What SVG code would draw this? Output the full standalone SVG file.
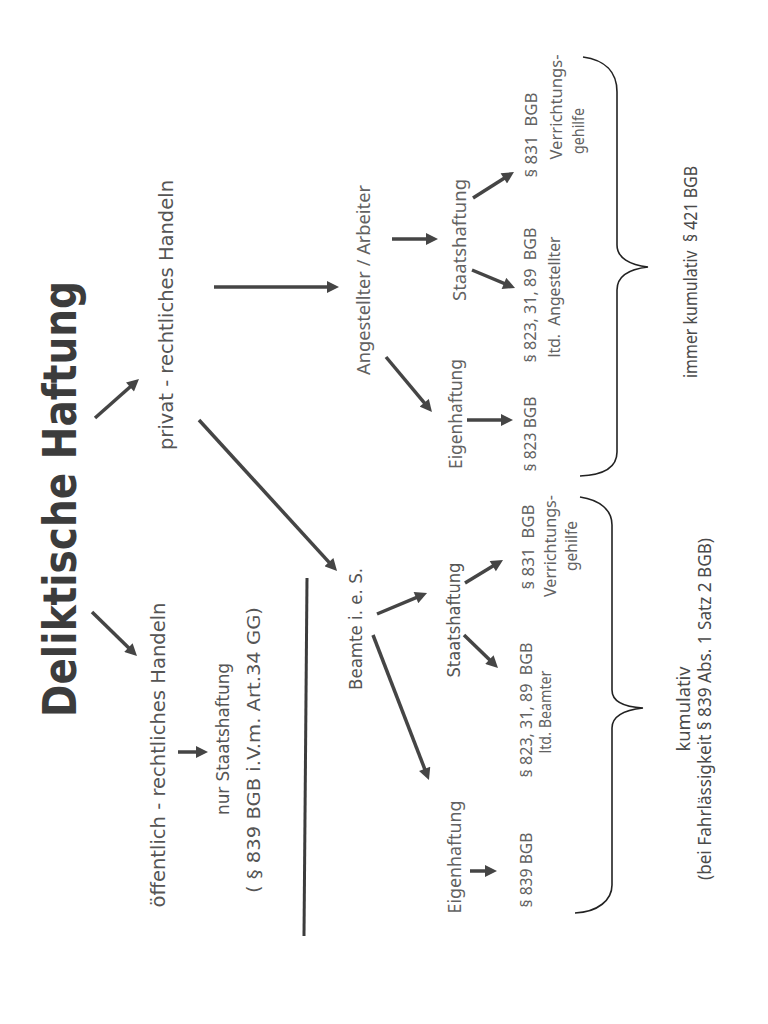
<svg xmlns="http://www.w3.org/2000/svg" width="768" height="1024" viewBox="0 0 768 1024">
<defs>
<marker id="ah" viewBox="0 0 10 10" refX="5" refY="5" markerWidth="13" markerHeight="12" markerUnits="userSpaceOnUse" orient="auto">
<path d="M0,0 L10,5 L0,10 z" fill="#454545"/>
</marker>
<style>
.t{font-family:"DejaVu Sans","Liberation Sans",sans-serif;text-anchor:middle;fill:#555555;font-size:18px;white-space:pre;}
.c{font-family:"Noto Sans","Liberation Sans",sans-serif;text-anchor:middle;fill:#626262;font-size:18px;white-space:pre;}
.title{font-family:"DejaVu Sans","Liberation Sans",sans-serif;font-weight:bold;font-size:46px;fill:#3c3c3c;text-anchor:middle;}
.arr{stroke:#454545;stroke-width:3.5;fill:none;marker-end:url(#ah);}
.brace{stroke:#222;stroke-width:1.6;fill:none;}
</style>
</defs>
<rect width="768" height="1024" fill="#ffffff"/>

<g id="title"><text class="title" transform="translate(76,499) rotate(-90)" textLength="436" lengthAdjust="spacingAndGlyphs">Deliktische Haftung</text></g>

<g id="privat"><text class="t" style="font-size:20px" transform="translate(173,315) rotate(-90)" textLength="270" lengthAdjust="spacingAndGlyphs">privat - rechtliches Handeln</text></g>
<g id="angestellter"><text class="c" transform="translate(370,280) rotate(-90)" textLength="190" lengthAdjust="spacingAndGlyphs">Angestellter / Arbeiter</text></g>
<g id="staatshaftung-top"><text class="c" transform="translate(466,240) rotate(-90)" textLength="122" lengthAdjust="spacingAndGlyphs">Staatshaftung</text></g>
<g id="eigenhaftung-top"><text class="c" transform="translate(462,414) rotate(-90)" textLength="110" lengthAdjust="spacingAndGlyphs">Eigenhaftung</text></g>
<g id="p823-top"><text class="c" style="font-size:17px" transform="translate(536,434) rotate(-90)" textLength="75" lengthAdjust="spacingAndGlyphs">§ 823 BGB</text></g>
<g id="p823-31-89-top">
<text class="c" style="font-size:17px" xml:space="preserve" transform="translate(536,295) rotate(-90)" textLength="135" lengthAdjust="spacingAndGlyphs">§ 823, 31, 89  BGB</text>
<text class="c" style="font-size:17px" xml:space="preserve" transform="translate(560,297) rotate(-90)" textLength="121" lengthAdjust="spacingAndGlyphs">ltd.  Angestellter</text>
</g>
<g id="p831-top">
<text class="c" style="font-size:17px" xml:space="preserve" transform="translate(537,135) rotate(-90)" textLength="85" lengthAdjust="spacingAndGlyphs">§ 831  BGB</text>
<text class="c" style="font-size:17px" transform="translate(562,107) rotate(-90)" textLength="105" lengthAdjust="spacingAndGlyphs">Verrichtungs-</text>
<text class="c" style="font-size:17px" transform="translate(584,131) rotate(-90)" textLength="46" lengthAdjust="spacingAndGlyphs">gehilfe</text>
</g>
<g id="immer-kumulativ"><text class="c" style="fill:#4a4a4a" xml:space="preserve" transform="translate(697,272) rotate(-90)" textLength="212" lengthAdjust="spacingAndGlyphs">immer kumulativ  § 421 BGB</text></g>

<g id="oeffentlich"><text class="t" style="font-size:19px" transform="translate(165,755) rotate(-90)" textLength="305" lengthAdjust="spacingAndGlyphs">öffentlich - rechtliches Handeln</text></g>
<g id="nur-staatshaftung">
<text class="t" transform="translate(229,739) rotate(-90)" textLength="152" lengthAdjust="spacingAndGlyphs">nur Staatshaftung</text>
<text class="t" transform="translate(260,750) rotate(-90)" textLength="286" lengthAdjust="spacingAndGlyphs">( § 839 BGB i.V.m. Art.34 GG)</text>
</g>
<g id="beamte"><text class="t" style="font-size:17px" transform="translate(362,629) rotate(-90)" textLength="122" lengthAdjust="spacingAndGlyphs">Beamte i. e. S.</text></g>
<g id="staatshaftung-bottom"><text class="t" transform="translate(460,620) rotate(-90)" textLength="115" lengthAdjust="spacingAndGlyphs">Staatshaftung</text></g>
<g id="p831-bottom">
<text class="c" style="font-size:17px" xml:space="preserve" transform="translate(534,547) rotate(-90)" textLength="85" lengthAdjust="spacingAndGlyphs">§ 831  BGB</text>
<text class="c" style="font-size:17px" transform="translate(556,546) rotate(-90)" textLength="102" lengthAdjust="spacingAndGlyphs">Verrichtungs-</text>
<text class="c" style="font-size:17px" transform="translate(577,546) rotate(-90)" textLength="50" lengthAdjust="spacingAndGlyphs">gehilfe</text>
</g>
<g id="p823-31-89-bottom">
<text class="c" style="font-size:17px" xml:space="preserve" transform="translate(532,710) rotate(-90)" textLength="135" lengthAdjust="spacingAndGlyphs">§ 823, 31, 89  BGB</text>
<text class="c" style="font-size:17px" transform="translate(551,712) rotate(-90)" textLength="83" lengthAdjust="spacingAndGlyphs">ltd. Beamter</text>
</g>
<g id="eigenhaftung-bottom"><text class="c" transform="translate(461,857) rotate(-90)" textLength="113" lengthAdjust="spacingAndGlyphs">Eigenhaftung</text></g>
<g id="p839"><text class="c" style="font-size:17px" transform="translate(532,870) rotate(-90)" textLength="75" lengthAdjust="spacingAndGlyphs">§ 839 BGB</text></g>
<g id="kumulativ">
<text class="c" style="fill:#4a4a4a" transform="translate(690,709) rotate(-90)" textLength="85" lengthAdjust="spacingAndGlyphs">kumulativ</text>
<text class="c" style="fill:#4a4a4a" transform="translate(711,709) rotate(-90)" textLength="342" lengthAdjust="spacingAndGlyphs">(bei Fahrlässigkeit § 839 Abs. 1 Satz 2 BGB)</text>
</g>

<g id="connectors">
<line class="arr" x1="95" y1="418" x2="134.5" y2="383"/>
<line class="arr" x1="92" y1="612" x2="132.7" y2="651.8"/>
<line class="arr" x1="214" y1="287" x2="333" y2="287"/>
<line class="arr" x1="199" y1="420" x2="333" y2="566.6"/>
<line class="arr" x1="392" y1="239" x2="432" y2="239"/>
<line class="arr" x1="386" y1="357" x2="428.1" y2="407.4"/>
<line class="arr" x1="473" y1="198" x2="508.9" y2="175.2"/>
<line class="arr" x1="472" y1="270" x2="509.5" y2="285.7"/>
<line class="arr" x1="467" y1="420" x2="507" y2="420"/>
<line class="arr" x1="178" y1="752" x2="202" y2="752"/>
<line class="arr" x1="377" y1="614" x2="421.5" y2="595.3"/>
<line class="arr" x1="373" y1="635" x2="426.8" y2="774.4"/>
<line class="arr" x1="465" y1="583" x2="497.9" y2="563.1"/>
<line class="arr" x1="464" y1="635" x2="493.7" y2="663.8"/>
<line class="arr" x1="470" y1="871" x2="491" y2="871"/>
<line x1="307" y1="578" x2="304" y2="936" stroke="#3c3c3c" stroke-width="3"/>
<path class="brace" d="M583,57 C605,60 617,72 617,92 L617,245 C617,258 630,265 648,267 C630,269 617,276 617,290 L617,452 C617,468 603,475 580,476"/>
<path class="brace" d="M580,497 C600,500 612,510 612,525 L612,690 C612,702 625,707 643,708 C625,710 612,716 612,728 L612,885 C612,900 598,912 575,913"/>
</g>
</svg>
